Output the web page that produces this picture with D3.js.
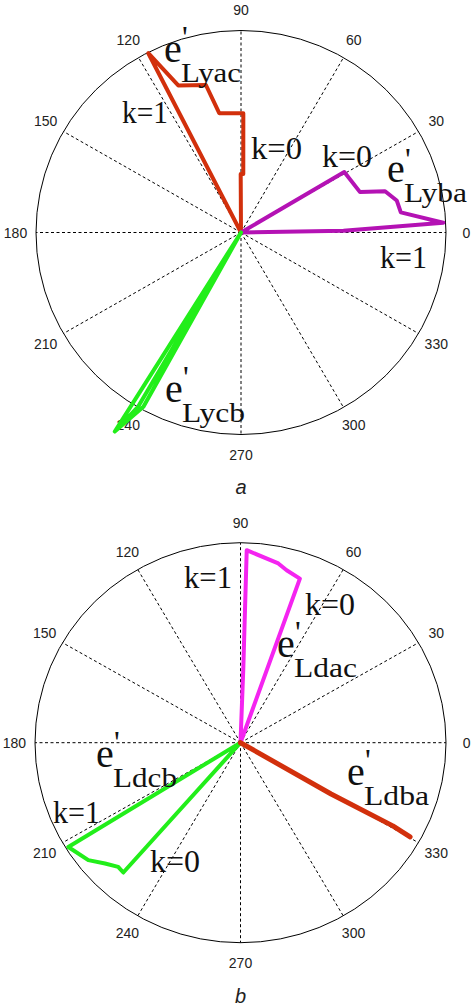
<!DOCTYPE html>
<html><head><meta charset="utf-8">
<script src="https://cdn.jsdelivr.net/npm/d3@7"></script>
<style>body{margin:0;background:#fff}svg{display:block}</style>
</head><body>
<script>
// ---- data ----
const angleTicks = [0, 30, 60, 90, 120, 150, 180, 210, 240, 270, 300, 330];
const tickLabels = ["0", "30", "60", "90", "120", "150", "180", "210", "240", "270", "300", "330"];

// panel a
const lyacTheta = [0, 90.3, 87.8, 88.9, 100.2, 103.2, 112.8, 117.0, 0];
const lyacRho   = [0, 0.29, 0.29, 0.59, 0.60, 0.75, 0.79, 0.996, 0];
const lybaTheta = [0, 30.7, 19.0, 16.2, 11.8, 7.3, 2.8, 1.0, 0];
const lybaRho   = [0, 0.586, 0.614, 0.732, 0.776, 0.786, 0.988, 0.5, 0];
const lycbTheta = [0, 241.1, 238.0, 0, 239.8, 238.4];
const lycbRho   = [0, 0.985, 1.162, 0, 0.997, 1.12];

// panel b
const ldacTheta = [0, 87.9, 88.2, 78.4, 75.4, 70.6, 0];
const ldacRho   = [0, 0.37, 0.963, 0.915, 0.891, 0.870, 0];
const ldcbTheta = [0, 211.9, 218.4, 222.5, 226.2, 228.7, 0];
const ldcbRho   = [0, 0.987, 0.945, 0.894, 0.860, 0.864, 0];
const ldbaTheta = [0, 329.8, 330.7, 330.3];
const ldbaRho   = [0, 0.51, 0.85, 0.95];

const W = 474, H = 1006;
const svg = d3.select("body").append("svg").attr("width", W).attr("height", H);

function panel(cfg) {
  const g = svg.append("g");
  const x = d3.scaleLinear().domain([-1, 1]).range([cfg.cx - cfg.rx, cfg.cx + cfg.rx]);
  const y = d3.scaleLinear().domain([-1, 1]).range([cfg.cy + cfg.ry, cfg.cy - cfg.ry]);
  const rad = d => d * Math.PI / 180;
  const px = (t, r) => x(r * Math.cos(rad(t)));
  const py = (t, r) => y(r * Math.sin(rad(t)));

  // spokes
  g.selectAll("line.spoke").data(angleTicks).join("line")
    .attr("x1", x(0)).attr("y1", y(0))
    .attr("x2", d => px(d, 1)).attr("y2", d => py(d, 1))
    .attr("stroke", "#000").attr("stroke-width", 1).attr("stroke-dasharray", "3,2.5");
  // outer circle
  g.append("ellipse").attr("cx", x(0)).attr("cy", y(0))
    .attr("rx", x(1) - x(0)).attr("ry", y(0) - y(1))
    .attr("fill", "none").attr("stroke", "#000").attr("stroke-width", 1);
  // tick labels
  g.selectAll("text.tick").data(angleTicks).join("text")
    .attr("x", d => px(d, 1.1)).attr("y", d => py(d, 1.1))
    .attr("text-anchor", "middle").attr("dominant-baseline", "central")
    .attr("font-family", "Liberation Sans, Arial, sans-serif").attr("font-size", 14)
    .attr("fill", "#222")
    .text((d, i) => tickLabels[i]);

  // series
  const line = d3.line().x(d => px(d[0], d[1])).y(d => py(d[0], d[1]));
  cfg.series.forEach(s => {
    const pts = s.theta.map((t, i) => [t, s.rho[i]]);
    g.append("path").attr("d", line(pts)).attr("fill", "none")
      .attr("stroke", s.color).attr("stroke-width", s.width || 4)
      .attr("stroke-linejoin", "round").attr("stroke-linecap", "round");
  });

  // annotations
  const serif = "Liberation Serif, Times New Roman, serif";
  cfg.kLabels.forEach(k => {
    g.append("text").attr("x", x(k.nx)).attr("y", y(k.ny))
      .attr("font-family", serif).attr("font-size", 32).attr("fill", "#111")
      .attr("textLength", k.w).attr("lengthAdjust", "spacingAndGlyphs")
      .text(k.t);
  });
  cfg.eLabels.forEach(e => {
    const ex = x(e.nx), ey = y(e.ny);
    g.append("text").attr("x", ex).attr("y", ey)
      .attr("font-family", serif).attr("font-size", 40).attr("fill", "#111").text("e");
    g.append("text").attr("x", ex + 18).attr("y", ey - (e.p || 14))
      .attr("font-family", serif).attr("font-size", 32).attr("fill", "#111").text("'");
    g.append("text").attr("x", ex + 17).attr("y", ey + 20)
      .attr("font-family", serif).attr("font-size", 27).attr("fill", "#111")
      .attr("textLength", e.w).attr("lengthAdjust", "spacingAndGlyphs")
      .text(e.sub);
  });
  g.append("text").attr("x", x(0)).attr("y", cfg.capY)
    .attr("text-anchor", "middle").attr("font-family", "Liberation Sans, Arial, sans-serif")
    .attr("font-style", "italic").attr("font-size", 20).attr("fill", "#222").text(cfg.cap);
}

// label positions given in normalized panel units
panel({
  cx: 241, cy: 232.5, rx: 205, ry: 202, capY: 494, cap: "a",
  series: [
    {theta: lyacTheta, rho: lyacRho, color: "#d2300c"},
    {theta: lybaTheta, rho: lybaRho, color: "#b412b4"},
    {theta: lycbTheta, rho: lycbRho, color: "#22ee1a"}
  ],
  kLabels: [
    {t: "k=1", nx: (122 - 241) / 205, ny: (232.5 - 123) / 202, w: 46},
    {t: "k=0", nx: (251 - 241) / 205, ny: (232.5 - 159) / 202, w: 51},
    {t: "k=0", nx: (322 - 241) / 205, ny: (232.5 - 167) / 202, w: 50},
    {t: "k=1", nx: (380 - 241) / 205, ny: (232.5 - 268) / 202, w: 47}
  ],
  eLabels: [
    {sub: "Lyac", nx: (164 - 241) / 205, ny: (232.5 - 62) / 202, w: 60},
    {sub: "Lyba", nx: (387 - 241) / 205, ny: (232.5 - 182) / 202, w: 63, p: 12},
    {sub: "Lycb", nx: (165 - 241) / 205, ny: (232.5 - 402) / 202, w: 63}
  ]
});

panel({
  cx: 240.5, cy: 742.7, rx: 205.5, ry: 200, capY: 1003, cap: "b",
  series: [
    {theta: ldacTheta, rho: ldacRho, color: "#f424f0"},
    {theta: ldcbTheta, rho: ldcbRho, color: "#22ee1a"},
    {theta: ldbaTheta, rho: ldbaRho, color: "#d2300c", width: 5}
  ],
  kLabels: [
    {t: "k=1", nx: (184 - 240.5) / 205.5, ny: (742.7 - 588) / 200, w: 48},
    {t: "k=0", nx: (305 - 240.5) / 205.5, ny: (742.7 - 615) / 200, w: 50},
    {t: "k=1", nx: (53 - 240.5) / 205.5, ny: (742.7 - 823) / 200, w: 47},
    {t: "k=0", nx: (150 - 240.5) / 205.5, ny: (742.7 - 872) / 200, w: 50}
  ],
  eLabels: [
    {sub: "Ldac", nx: (277 - 240.5) / 205.5, ny: (742.7 - 657) / 200, w: 63},
    {sub: "Ldcb", nx: (96 - 240.5) / 205.5, ny: (742.7 - 767) / 200, w: 64},
    {sub: "Ldba", nx: (347 - 240.5) / 205.5, ny: (742.7 - 785) / 200, w: 65}
  ]
});
</script>
</body></html>
